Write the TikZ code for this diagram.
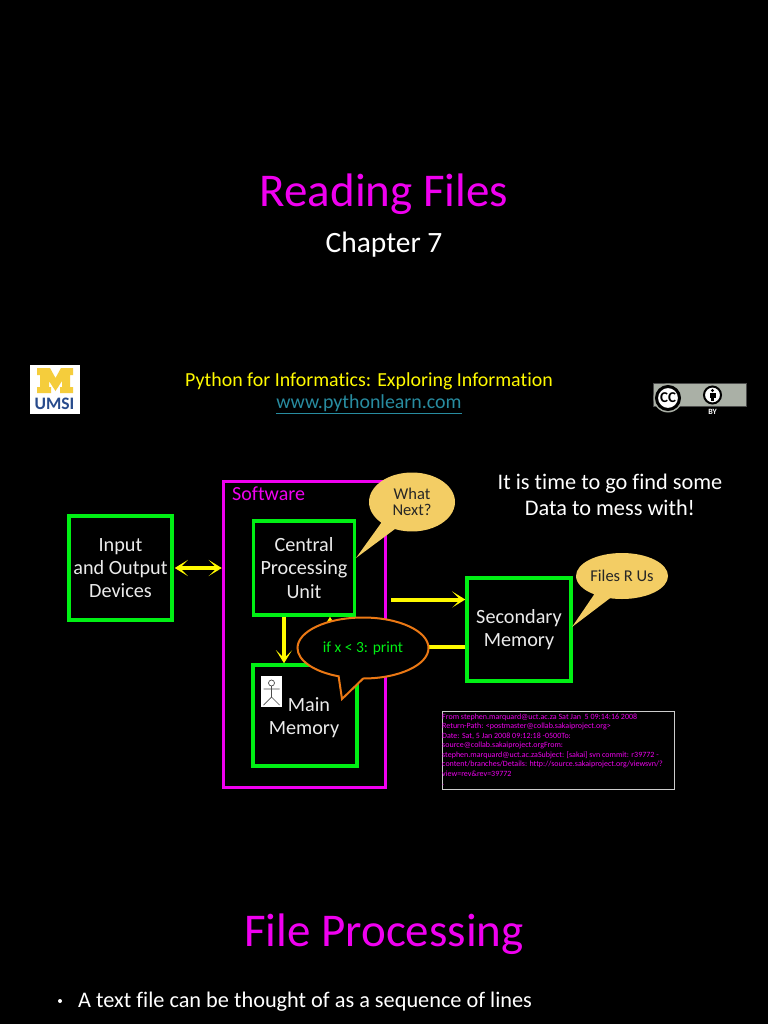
\documentclass[tikz,border=0pt]{standalone}
\usepackage{fontspec}
\setmainfont[Ligatures=NoCommon]{Carlito}
\usetikzlibrary{shapes, arrows.meta, positioning, calc}
\definecolor{slidemag}{RGB}{240, 0, 240}
\definecolor{boxgreen}{RGB}{0, 240, 20}
\definecolor{wireyellow}{RGB}{255, 250, 0}
\definecolor{balloon}{RGB}{243, 205, 100}
\definecolor{calloutorange}{RGB}{235, 120, 20}
\definecolor{linkteal}{RGB}{40, 140, 160}
\definecolor{umsiblue}{RGB}{40, 75, 140}
\definecolor{umsigold}{RGB}{245, 205, 60}
\definecolor{ccgrey}{RGB}{170, 176, 166}
\newcommand{\fs}[1]{\fontsize{#1}{#1}\selectfont}
\tikzset{
  chevron/.tip={Stealth[inset=8pt, length=13pt, width=16pt]},
  unitbox/.style={draw=boxgreen, line width=3.5pt, text=white!92!black, align=center, font=\fs{20.2}, inner sep=0pt},
  softbox/.style={draw=slidemag, line width=3.5pt, minimum width=162pt, minimum height=306pt, inner sep=0pt},
  wire/.style={wireyellow, line width=4pt, -chevron},
  wiretwo/.style={wire, chevron-chevron},
  talk/.style={ellipse callout, fill=balloon, text=black!85, align=center, inner sep=0pt, callout pointer arc=22},
  heading/.style={text=slidemag, font=\fs{47}, inner sep=0pt},
}
\begin{document}
\begin{tikzpicture}[x=1pt, y=-1pt]
  \useasboundingbox[fill=black] (0,0) rectangle (768,1024);
  \node[heading] (title) at (384,194) {Reading Files};
  \node[text=white, font=\fs{29.5}, inner sep=0pt] (chap) at (384,245) {Chapter 7};
  \node[text=wireyellow, font=\fs{19.9}, inner sep=0pt] (book) at (369,381) {Python for Informatics: Exploring Information};
  \node[text=linkteal, font=\fs{19.9}, inner sep=0pt] (link) at (369,404) {\underline{www.pythonlearn.com}};
  % logo
  \node[fill=white, minimum width=50pt, minimum height=49pt, inner sep=0pt] (logo) at (54.5,389.5) {};
  \fill[umsigold] (37,368)--(50,368)--(55.5,378)--(61,368)--(73,368)--(73,375)--(70,375)--(70,387)--(73,387)--(73,393)--(60,393)--(60,387)--(62,387)--(62,381)--(55.5,391)--(49,381)--(49,387)--(51,387)--(51,393)--(37,393)--(37,387)--(40,387)--(40,375)--(37,375)--cycle;
  \node[text=umsiblue, font=\fs{17.5}\bfseries, inner sep=0pt] (umsi) at (54.5,404) {UMSI};
  % licence badge
  \node[fill=ccgrey, draw=black!70, minimum width=93pt, minimum height=23pt, inner sep=0pt] (cc) at (700,395) {};
  \node[circle, fill=ccgrey, minimum size=29pt, inner sep=0pt] (ccring) at (668,398) {};
  \node[circle, fill=white, draw=black, line width=3pt, minimum size=23pt, inner sep=0pt, font=\fs{15}\bfseries, text=black] (cclogo) at (668,398) {CC};
  \node[circle, fill=white, draw=black, line width=2pt, minimum size=17pt, inner sep=0pt] (by) at (712.5,395) {};
  \fill[black] (712.5,390.5) circle (1.6pt);
  \fill[black] (709.5,393) rectangle (715.5,397.5);
  \fill[black] (711,397) rectangle (714,401);
  \node[text=white, font=\fs{8}\bfseries, inner sep=0pt] (bytext) at (712.5,411.5) {BY};
  % machine
  \node[softbox] (sw) at (304.5,634.5) {};
  \node[text=slidemag, font=\fs{20}, inner sep=0pt, anchor=west] (swlabel) at (232,494) {Software};
  \node[unitbox, minimum width=103pt, minimum height=104pt] (io) at (120.5,568) {Input\\[3pt]and Output\\[3pt]Devices};
  \node[unitbox, minimum width=101pt, minimum height=94pt] (cpu) at (304,568) {Central\\[3pt]Processing\\[3pt]Unit};
  \node[unitbox, minimum width=104pt, minimum height=101pt, anchor=center] (mem) at (305,715.5) {};
  \node[text=white!92!black, align=center, font=\fs{20.2}, inner sep=0pt] (memlabel) at (304,718) {\hspace*{10pt}Main\\[3pt]Memory};
  \node[unitbox, minimum width=104pt, minimum height=103pt] (sec) at (519,629.5) {\raisebox{-1.5pt}{Secondary}\\[3pt]\raisebox{-1.5pt}{Memory}};
  \coordinate (secin) at ([yshift=30pt]sec.west);
  \coordinate (secout) at ([yshift=-17.5pt]sec.west);
  \coordinate (cpudown) at ([xshift=-20pt]cpu.south);
  \coordinate (memup) at ([xshift=25pt]mem.north);
  \draw[wiretwo, shorten <=1pt, shorten >=0pt] (io.east) -- (io.east -| sw.west);
  \draw[wire, shorten <=4pt] (sw.east |- secin) -- (secin);
  \draw[wire] (secout) -- (sw.east |- secout);
  \draw[wire] (cpudown) -- (cpudown |- mem.north);
  \draw[wire] (memup) -- (memup |- cpu.south);
  % actor
  \node[fill=white, minimum width=21pt, minimum height=31pt, inner sep=0pt] (actor) at (271.5,691.5) {};
  \draw[black!70, line width=0.7pt] (271.5,683) circle (3pt) (271.5,686)--(271.5,697) (263.5,689)--(279.5,689) (271.5,697)--(263.5,705) (271.5,697)--(279.5,705);
  % balloons
  \node[talk, minimum width=86pt, minimum height=59pt, font=\fs{16.5}, callout absolute pointer={(356,558)}] (next) at (412,502) {What\\Next?};
  \node[talk, minimum width=92pt, minimum height=46pt, font=\fs{16.5}, callout absolute pointer={(572,627)}] (files) at (622,576) {Files R Us};
  \node[ellipse callout, fill=black, draw=calloutorange, line width=2pt, text=boxgreen, font=\fs{15.5}, minimum width=131pt, minimum height=61pt, inner sep=0pt, callout pointer arc=22, callout absolute pointer={(342,699)}] (ifx) at (363,648) {\raisebox{-1.5pt}{if x < 3: print}};
  % right side
  \node[text=white, align=center, font=\fs{22.3}, inner sep=0pt] (mess) at (610,495) {It is time to go find some\\[4pt]Data to mess with!};
  \node[draw=white!80!black, line width=1pt, minimum width=232pt, minimum height=78pt, inner sep=0pt] (mbox) at (558,750) {};
  \node[text=slidemag, align=left, font=\fontsize{8}{9.5}\selectfont, inner sep=0pt, anchor=north west] (mbox text) at (442,713.5) {From stephen.marquard@uct.ac.za Sat Jan\ \ 5 09:14:16 2008\\Return-Path: <postmaster@collab.sakaiproject.org>\\Date: Sat, 5 Jan 2008 09:12:18 -0500To:\\source@collab.sakaiproject.orgFrom:\\stephen.marquard@uct.ac.zaSubject: [sakai] svn commit: r39772 -\\content/branches/Details: http://source.sakaiproject.org/viewsvn/?\\view=rev\&rev=39772\\.};
  % next slide
  \node[heading] (fileproc) at (384,934) {File Processing};
  \node[text=white, font=\fs{22.3}, inner sep=0pt, anchor=west] (bullet) at (78,1002) {A text file can be thought of as a sequence of lines};
  \fill[white] (60,1001) circle (2pt);
\end{tikzpicture}
\end{document}
